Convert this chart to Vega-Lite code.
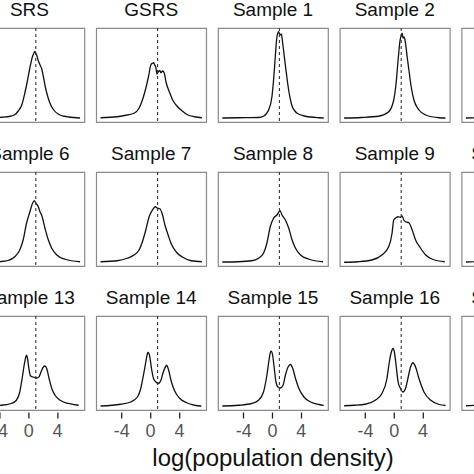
{
  "$schema": "https://vega.github.io/schema/vega-lite/v6.json",
  "padding": {"left": -26.6, "right": -88.6, "top": 0, "bottom": 2},
  "background": "white",
  "title": {"text": "log(population density)", "orient": "bottom", "anchor": "middle", "fontSize": 24, "font": "Liberation Sans", "fontWeight": "normal", "color": "#111111", "offset": 6},
  "data": {"values": [
    {"p":"SRS","x":-6.9,"d":0.002},{"p":"SRS","x":-5.0,"d":0.003},{"p":"SRS","x":-3.7,"d":0.005},{"p":"SRS","x":-2.5,"d":0.009},{"p":"SRS","x":-1.9,"d":0.015},{"p":"SRS","x":-1.4,"d":0.03},{"p":"SRS","x":-0.9,"d":0.055},{"p":"SRS","x":-0.5,"d":0.1},{"p":"SRS","x":-0.2,"d":0.14},{"p":"SRS","x":0.2,"d":0.2},{"p":"SRS","x":0.55,"d":0.245},{"p":"SRS","x":0.8,"d":0.263},{"p":"SRS","x":0.92,"d":0.268},{"p":"SRS","x":1.0,"d":0.262},{"p":"SRS","x":1.15,"d":0.255},{"p":"SRS","x":1.4,"d":0.23},{"p":"SRS","x":1.65,"d":0.213},{"p":"SRS","x":1.85,"d":0.2},{"p":"SRS","x":2.1,"d":0.167},{"p":"SRS","x":2.35,"d":0.128},{"p":"SRS","x":2.7,"d":0.088},{"p":"SRS","x":3.0,"d":0.062},{"p":"SRS","x":3.5,"d":0.035},{"p":"SRS","x":4.2,"d":0.017},{"p":"SRS","x":5.0,"d":0.009},{"p":"SRS","x":5.6,"d":0.006},{"p":"SRS","x":7.2,"d":0.002},

    {"p":"GSRS","x":-6.9,"d":0.003},{"p":"GSRS","x":-4.6,"d":0.007},{"p":"GSRS","x":-3.2,"d":0.014},{"p":"GSRS","x":-2.24,"d":0.021},{"p":"GSRS","x":-1.54,"d":0.041},{"p":"GSRS","x":-1.07,"d":0.074},{"p":"GSRS","x":-0.6,"d":0.121},{"p":"GSRS","x":-0.23,"d":0.167},{"p":"GSRS","x":0.1,"d":0.214},{"p":"GSRS","x":0.33,"d":0.221},{"p":"GSRS","x":0.5,"d":0.223},{"p":"GSRS","x":0.62,"d":0.215},{"p":"GSRS","x":0.8,"d":0.205},{"p":"GSRS","x":0.94,"d":0.178},{"p":"GSRS","x":1.13,"d":0.187},{"p":"GSRS","x":1.36,"d":0.191},{"p":"GSRS","x":1.5,"d":0.183},{"p":"GSRS","x":1.73,"d":0.19},{"p":"GSRS","x":1.97,"d":0.182},{"p":"GSRS","x":2.2,"d":0.147},{"p":"GSRS","x":2.67,"d":0.107},{"p":"GSRS","x":3.14,"d":0.074},{"p":"GSRS","x":3.61,"d":0.054},{"p":"GSRS","x":4.31,"d":0.034},{"p":"GSRS","x":5.25,"d":0.014},{"p":"GSRS","x":6.19,"d":0.007},{"p":"GSRS","x":7.2,"d":0.003},

    {"p":"Sample 1","x":-6.9,"d":0.002},{"p":"Sample 1","x":-4.7,"d":0.003},{"p":"Sample 1","x":-1.87,"d":0.004},{"p":"Sample 1","x":-1.17,"d":0.009},{"p":"Sample 1","x":-0.46,"d":0.034},{"p":"Sample 1","x":0.0,"d":0.087},{"p":"Sample 1","x":0.23,"d":0.154},{"p":"Sample 1","x":0.47,"d":0.247},{"p":"Sample 1","x":0.7,"d":0.327},{"p":"Sample 1","x":0.94,"d":0.347},{"p":"Sample 1","x":1.1,"d":0.334},{"p":"Sample 1","x":1.31,"d":0.338},{"p":"Sample 1","x":1.5,"d":0.301},{"p":"Sample 1","x":1.78,"d":0.234},{"p":"Sample 1","x":2.1,"d":0.16},{"p":"Sample 1","x":2.35,"d":0.11},{"p":"Sample 1","x":2.6,"d":0.072},{"p":"Sample 1","x":2.8,"d":0.05},{"p":"Sample 1","x":3.2,"d":0.03},{"p":"Sample 1","x":3.5,"d":0.021},{"p":"Sample 1","x":4.68,"d":0.009},{"p":"Sample 1","x":6.55,"d":0.003},{"p":"Sample 1","x":7.2,"d":0.002},

    {"p":"Sample 2","x":-6.9,"d":0.002},{"p":"Sample 2","x":-4.5,"d":0.004},{"p":"Sample 2","x":-2.11,"d":0.009},{"p":"Sample 2","x":-0.7,"d":0.027},{"p":"Sample 2","x":0.0,"d":0.074},{"p":"Sample 2","x":0.33,"d":0.141},{"p":"Sample 2","x":0.61,"d":0.234},{"p":"Sample 2","x":0.89,"d":0.314},{"p":"Sample 2","x":1.0,"d":0.327},{"p":"Sample 2","x":1.17,"d":0.341},{"p":"Sample 2","x":1.3,"d":0.322},{"p":"Sample 2","x":1.45,"d":0.326},{"p":"Sample 2","x":1.64,"d":0.301},{"p":"Sample 2","x":1.87,"d":0.247},{"p":"Sample 2","x":2.11,"d":0.194},{"p":"Sample 2","x":2.43,"d":0.127},{"p":"Sample 2","x":2.81,"d":0.074},{"p":"Sample 2","x":3.51,"d":0.034},{"p":"Sample 2","x":4.45,"d":0.014},{"p":"Sample 2","x":6.32,"d":0.003},{"p":"Sample 2","x":7.2,"d":0.002},

    {"p":"Sample 3","x":-6.9,"d":0.002},{"p":"Sample 3","x":-2.0,"d":0.008},{"p":"Sample 3","x":-0.7,"d":0.03},{"p":"Sample 3","x":0.0,"d":0.08},{"p":"Sample 3","x":0.5,"d":0.2},{"p":"Sample 3","x":1.0,"d":0.33},{"p":"Sample 3","x":1.5,"d":0.3},{"p":"Sample 3","x":2.0,"d":0.2},{"p":"Sample 3","x":2.5,"d":0.11},{"p":"Sample 3","x":3.0,"d":0.06},{"p":"Sample 3","x":4.0,"d":0.02},{"p":"Sample 3","x":5.5,"d":0.006},{"p":"Sample 3","x":7.2,"d":0.002},

    {"p":"Sample 6","x":-6.9,"d":0.002},{"p":"Sample 6","x":-5.0,"d":0.003},{"p":"Sample 6","x":-3.76,"d":0.004},{"p":"Sample 6","x":-2.83,"d":0.008},{"p":"Sample 6","x":-1.89,"d":0.023},{"p":"Sample 6","x":-1.19,"d":0.05},{"p":"Sample 6","x":-0.72,"d":0.09},{"p":"Sample 6","x":-0.25,"d":0.157},{"p":"Sample 6","x":0.22,"d":0.203},{"p":"Sample 6","x":0.59,"d":0.237},{"p":"Sample 6","x":0.82,"d":0.247},{"p":"Sample 6","x":1.06,"d":0.237},{"p":"Sample 6","x":1.39,"d":0.223},{"p":"Sample 6","x":1.62,"d":0.203},{"p":"Sample 6","x":1.85,"d":0.19},{"p":"Sample 6","x":2.32,"d":0.137},{"p":"Sample 6","x":2.79,"d":0.09},{"p":"Sample 6","x":3.26,"d":0.057},{"p":"Sample 6","x":3.96,"d":0.03},{"p":"Sample 6","x":5.13,"d":0.013},{"p":"Sample 6","x":7.2,"d":0.003},

    {"p":"Sample 7","x":-6.9,"d":0.003},{"p":"Sample 7","x":-4.58,"d":0.007},{"p":"Sample 7","x":-3.18,"d":0.017},{"p":"Sample 7","x":-2.24,"d":0.03},{"p":"Sample 7","x":-1.54,"d":0.05},{"p":"Sample 7","x":-1.07,"d":0.083},{"p":"Sample 7","x":-0.6,"d":0.13},{"p":"Sample 7","x":-0.14,"d":0.183},{"p":"Sample 7","x":0.33,"d":0.21},{"p":"Sample 7","x":0.71,"d":0.223},{"p":"Sample 7","x":1.03,"d":0.217},{"p":"Sample 7","x":1.36,"d":0.215},{"p":"Sample 7","x":1.73,"d":0.19},{"p":"Sample 7","x":2.06,"d":0.15},{"p":"Sample 7","x":2.43,"d":0.117},{"p":"Sample 7","x":2.9,"d":0.077},{"p":"Sample 7","x":3.6,"d":0.043},{"p":"Sample 7","x":4.54,"d":0.021},{"p":"Sample 7","x":5.71,"d":0.007},{"p":"Sample 7","x":7.2,"d":0.003},

    {"p":"Sample 8","x":-6.9,"d":0.002},{"p":"Sample 8","x":-4.68,"d":0.003},{"p":"Sample 8","x":-2.81,"d":0.007},{"p":"Sample 8","x":-1.87,"d":0.017},{"p":"Sample 8","x":-1.17,"d":0.037},{"p":"Sample 8","x":-0.7,"d":0.077},{"p":"Sample 8","x":-0.23,"d":0.143},{"p":"Sample 8","x":0.23,"d":0.177},{"p":"Sample 8","x":0.7,"d":0.19},{"p":"Sample 8","x":1.13,"d":0.207},{"p":"Sample 8","x":1.4,"d":0.19},{"p":"Sample 8","x":1.87,"d":0.17},{"p":"Sample 8","x":2.34,"d":0.137},{"p":"Sample 8","x":2.81,"d":0.09},{"p":"Sample 8","x":3.28,"d":0.057},{"p":"Sample 8","x":3.98,"d":0.03},{"p":"Sample 8","x":5.15,"d":0.013},{"p":"Sample 8","x":7.1,"d":0.003},

    {"p":"Sample 9","x":-6.9,"d":0.001},{"p":"Sample 9","x":-5.0,"d":0.003},{"p":"Sample 9","x":-3.04,"d":0.01},{"p":"Sample 9","x":-1.64,"d":0.03},{"p":"Sample 9","x":-0.7,"d":0.063},{"p":"Sample 9","x":-0.23,"d":0.117},{"p":"Sample 9","x":0.0,"d":0.17},{"p":"Sample 9","x":0.23,"d":0.177},{"p":"Sample 9","x":0.61,"d":0.183},{"p":"Sample 9","x":0.94,"d":0.181},{"p":"Sample 9","x":1.17,"d":0.186},{"p":"Sample 9","x":1.4,"d":0.17},{"p":"Sample 9","x":1.64,"d":0.163},{"p":"Sample 9","x":2.11,"d":0.159},{"p":"Sample 9","x":2.57,"d":0.13},{"p":"Sample 9","x":3.04,"d":0.09},{"p":"Sample 9","x":3.74,"d":0.057},{"p":"Sample 9","x":4.45,"d":0.03},{"p":"Sample 9","x":5.38,"d":0.013},{"p":"Sample 9","x":7.1,"d":0.003},

    {"p":"Sample 10","x":-6.9,"d":0.002},{"p":"Sample 10","x":-3.0,"d":0.01},{"p":"Sample 10","x":-1.5,"d":0.035},{"p":"Sample 10","x":-0.5,"d":0.1},{"p":"Sample 10","x":0.3,"d":0.18},{"p":"Sample 10","x":1.0,"d":0.2},{"p":"Sample 10","x":1.7,"d":0.18},{"p":"Sample 10","x":2.5,"d":0.12},{"p":"Sample 10","x":3.2,"d":0.07},{"p":"Sample 10","x":4.2,"d":0.03},{"p":"Sample 10","x":5.5,"d":0.01},{"p":"Sample 10","x":7.2,"d":0.003},

    {"p":"Sample 13","x":-6.9,"d":0.002},{"p":"Sample 13","x":-5.0,"d":0.004},{"p":"Sample 13","x":-3.76,"d":0.005},{"p":"Sample 13","x":-2.36,"d":0.012},{"p":"Sample 13","x":-1.66,"d":0.025},{"p":"Sample 13","x":-1.19,"d":0.058},{"p":"Sample 13","x":-0.86,"d":0.112},{"p":"Sample 13","x":-0.58,"d":0.165},{"p":"Sample 13","x":-0.35,"d":0.198},{"p":"Sample 13","x":-0.25,"d":0.205},{"p":"Sample 13","x":-0.11,"d":0.192},{"p":"Sample 13","x":0.08,"d":0.152},{"p":"Sample 13","x":0.31,"d":0.122},{"p":"Sample 13","x":0.69,"d":0.118},{"p":"Sample 13","x":1.15,"d":0.114},{"p":"Sample 13","x":1.48,"d":0.118},{"p":"Sample 13","x":1.76,"d":0.138},{"p":"Sample 13","x":2.09,"d":0.158},{"p":"Sample 13","x":2.32,"d":0.162},{"p":"Sample 13","x":2.56,"d":0.152},{"p":"Sample 13","x":2.89,"d":0.112},{"p":"Sample 13","x":3.26,"d":0.072},{"p":"Sample 13","x":3.72,"d":0.045},{"p":"Sample 13","x":4.43,"d":0.025},{"p":"Sample 13","x":5.6,"d":0.012},{"p":"Sample 13","x":7.0,"d":0.005},

    {"p":"Sample 14","x":-6.9,"d":0.002},{"p":"Sample 14","x":-4.11,"d":0.009},{"p":"Sample 14","x":-2.71,"d":0.018},{"p":"Sample 14","x":-1.77,"d":0.038},{"p":"Sample 14","x":-1.3,"d":0.072},{"p":"Sample 14","x":-0.93,"d":0.125},{"p":"Sample 14","x":-0.6,"d":0.178},{"p":"Sample 14","x":-0.37,"d":0.212},{"p":"Sample 14","x":-0.28,"d":0.216},{"p":"Sample 14","x":-0.04,"d":0.198},{"p":"Sample 14","x":0.19,"d":0.152},{"p":"Sample 14","x":0.47,"d":0.112},{"p":"Sample 14","x":0.8,"d":0.098},{"p":"Sample 14","x":1.13,"d":0.092},{"p":"Sample 14","x":1.5,"d":0.105},{"p":"Sample 14","x":1.83,"d":0.138},{"p":"Sample 14","x":2.2,"d":0.162},{"p":"Sample 14","x":2.29,"d":0.165},{"p":"Sample 14","x":2.58,"d":0.145},{"p":"Sample 14","x":2.9,"d":0.105},{"p":"Sample 14","x":3.37,"d":0.065},{"p":"Sample 14","x":4.07,"d":0.034},{"p":"Sample 14","x":5.01,"d":0.016},{"p":"Sample 14","x":6.18,"d":0.005},{"p":"Sample 14","x":7.12,"d":0.002},

    {"p":"Sample 15","x":-6.9,"d":0.002},{"p":"Sample 15","x":-4.68,"d":0.005},{"p":"Sample 15","x":-2.81,"d":0.012},{"p":"Sample 15","x":-1.87,"d":0.025},{"p":"Sample 15","x":-1.17,"d":0.058},{"p":"Sample 15","x":-0.7,"d":0.125},{"p":"Sample 15","x":-0.37,"d":0.192},{"p":"Sample 15","x":-0.2,"d":0.218},{"p":"Sample 15","x":-0.09,"d":0.221},{"p":"Sample 15","x":0.1,"d":0.205},{"p":"Sample 15","x":0.33,"d":0.152},{"p":"Sample 15","x":0.56,"d":0.098},{"p":"Sample 15","x":0.84,"d":0.078},{"p":"Sample 15","x":1.17,"d":0.074},{"p":"Sample 15","x":1.55,"d":0.085},{"p":"Sample 15","x":1.87,"d":0.125},{"p":"Sample 15","x":2.25,"d":0.158},{"p":"Sample 15","x":2.58,"d":0.168},{"p":"Sample 15","x":2.9,"d":0.152},{"p":"Sample 15","x":3.28,"d":0.112},{"p":"Sample 15","x":3.75,"d":0.072},{"p":"Sample 15","x":4.45,"d":0.038},{"p":"Sample 15","x":5.39,"d":0.018},{"p":"Sample 15","x":6.56,"d":0.008},{"p":"Sample 15","x":7.2,"d":0.004},

    {"p":"Sample 16","x":-6.9,"d":0.003},{"p":"Sample 16","x":-5.5,"d":0.005},{"p":"Sample 16","x":-3.98,"d":0.009},{"p":"Sample 16","x":-2.57,"d":0.025},{"p":"Sample 16","x":-1.64,"d":0.052},{"p":"Sample 16","x":-0.94,"d":0.112},{"p":"Sample 16","x":-0.61,"d":0.178},{"p":"Sample 16","x":-0.33,"d":0.218},{"p":"Sample 16","x":-0.09,"d":0.232},{"p":"Sample 16","x":0.09,"d":0.218},{"p":"Sample 16","x":0.33,"d":0.165},{"p":"Sample 16","x":0.61,"d":0.098},{"p":"Sample 16","x":0.94,"d":0.072},{"p":"Sample 16","x":1.26,"d":0.058},{"p":"Sample 16","x":1.64,"d":0.072},{"p":"Sample 16","x":1.97,"d":0.112},{"p":"Sample 16","x":2.34,"d":0.158},{"p":"Sample 16","x":2.67,"d":0.175},{"p":"Sample 16","x":3.04,"d":0.158},{"p":"Sample 16","x":3.51,"d":0.112},{"p":"Sample 16","x":4.21,"d":0.058},{"p":"Sample 16","x":5.15,"d":0.025},{"p":"Sample 16","x":6.32,"d":0.008},{"p":"Sample 16","x":7.2,"d":0.004},

    {"p":"Sample 17","x":-6.9,"d":0.003},{"p":"Sample 17","x":-4.0,"d":0.009},{"p":"Sample 17","x":-2.0,"d":0.03},{"p":"Sample 17","x":-1.0,"d":0.1},{"p":"Sample 17","x":-0.3,"d":0.215},{"p":"Sample 17","x":0.2,"d":0.18},{"p":"Sample 17","x":0.7,"d":0.09},{"p":"Sample 17","x":1.2,"d":0.065},{"p":"Sample 17","x":1.7,"d":0.08},{"p":"Sample 17","x":2.4,"d":0.16},{"p":"Sample 17","x":2.7,"d":0.17},{"p":"Sample 17","x":3.2,"d":0.13},{"p":"Sample 17","x":4.0,"d":0.06},{"p":"Sample 17","x":5.0,"d":0.025},{"p":"Sample 17","x":7.2,"d":0.004}
  ]},
  "columns": 5,
  "spacing": {"row": 20, "column": 9.8},
  "facet": {
    "field": "p", "type": "nominal",
    "sort": ["SRS","GSRS","Sample 1","Sample 2","Sample 3","Sample 6","Sample 7","Sample 8","Sample 9","Sample 10","Sample 13","Sample 14","Sample 15","Sample 16","Sample 17"],
    "header": {"title": null, "labelFontSize": 19, "labelFont": "Liberation Sans", "labelColor": "#111111", "labelPadding": 7}
  },
  "spec": {
    "width": 110,
    "height": 94,
    "layer": [
      {
        "mark": {"type": "line", "color": "#111111", "strokeWidth": 1.3, "interpolate": "monotone"},
        "encoding": {
          "x": {"field": "x", "type": "quantitative",
                "scale": {"domain": [-7.5, 7.8], "nice": false, "zero": false},
                "axis": {"values": [-4, 0, 4], "grid": false, "domain": false, "ticks": true, "tickSize": 6, "tickColor": "#222222", "tickWidth": 1.3,
                         "labelColor": "#555555", "labelFontSize": 18, "labelFont": "Liberation Sans", "labelPadding": 5,
                         "labelExpr": "datum.value + ''", "title": null}},
          "y": {"field": "d", "type": "quantitative",
                "scale": {"domain": [-0.014, 0.362], "nice": false, "zero": false},
                "axis": null}
        }
      },
      {
        "transform": [{"filter": "datum.x == -6.9"}],
        "mark": {"type": "rule", "strokeDash": [3, 3], "color": "#333333", "strokeWidth": 1.1},
        "encoding": {"x": {"datum": 1.04, "type": "quantitative"}}
      }
    ]
  },
  "config": {
    "view": {"stroke": "#8a8a8a", "strokeWidth": 1.2}
  }
}
